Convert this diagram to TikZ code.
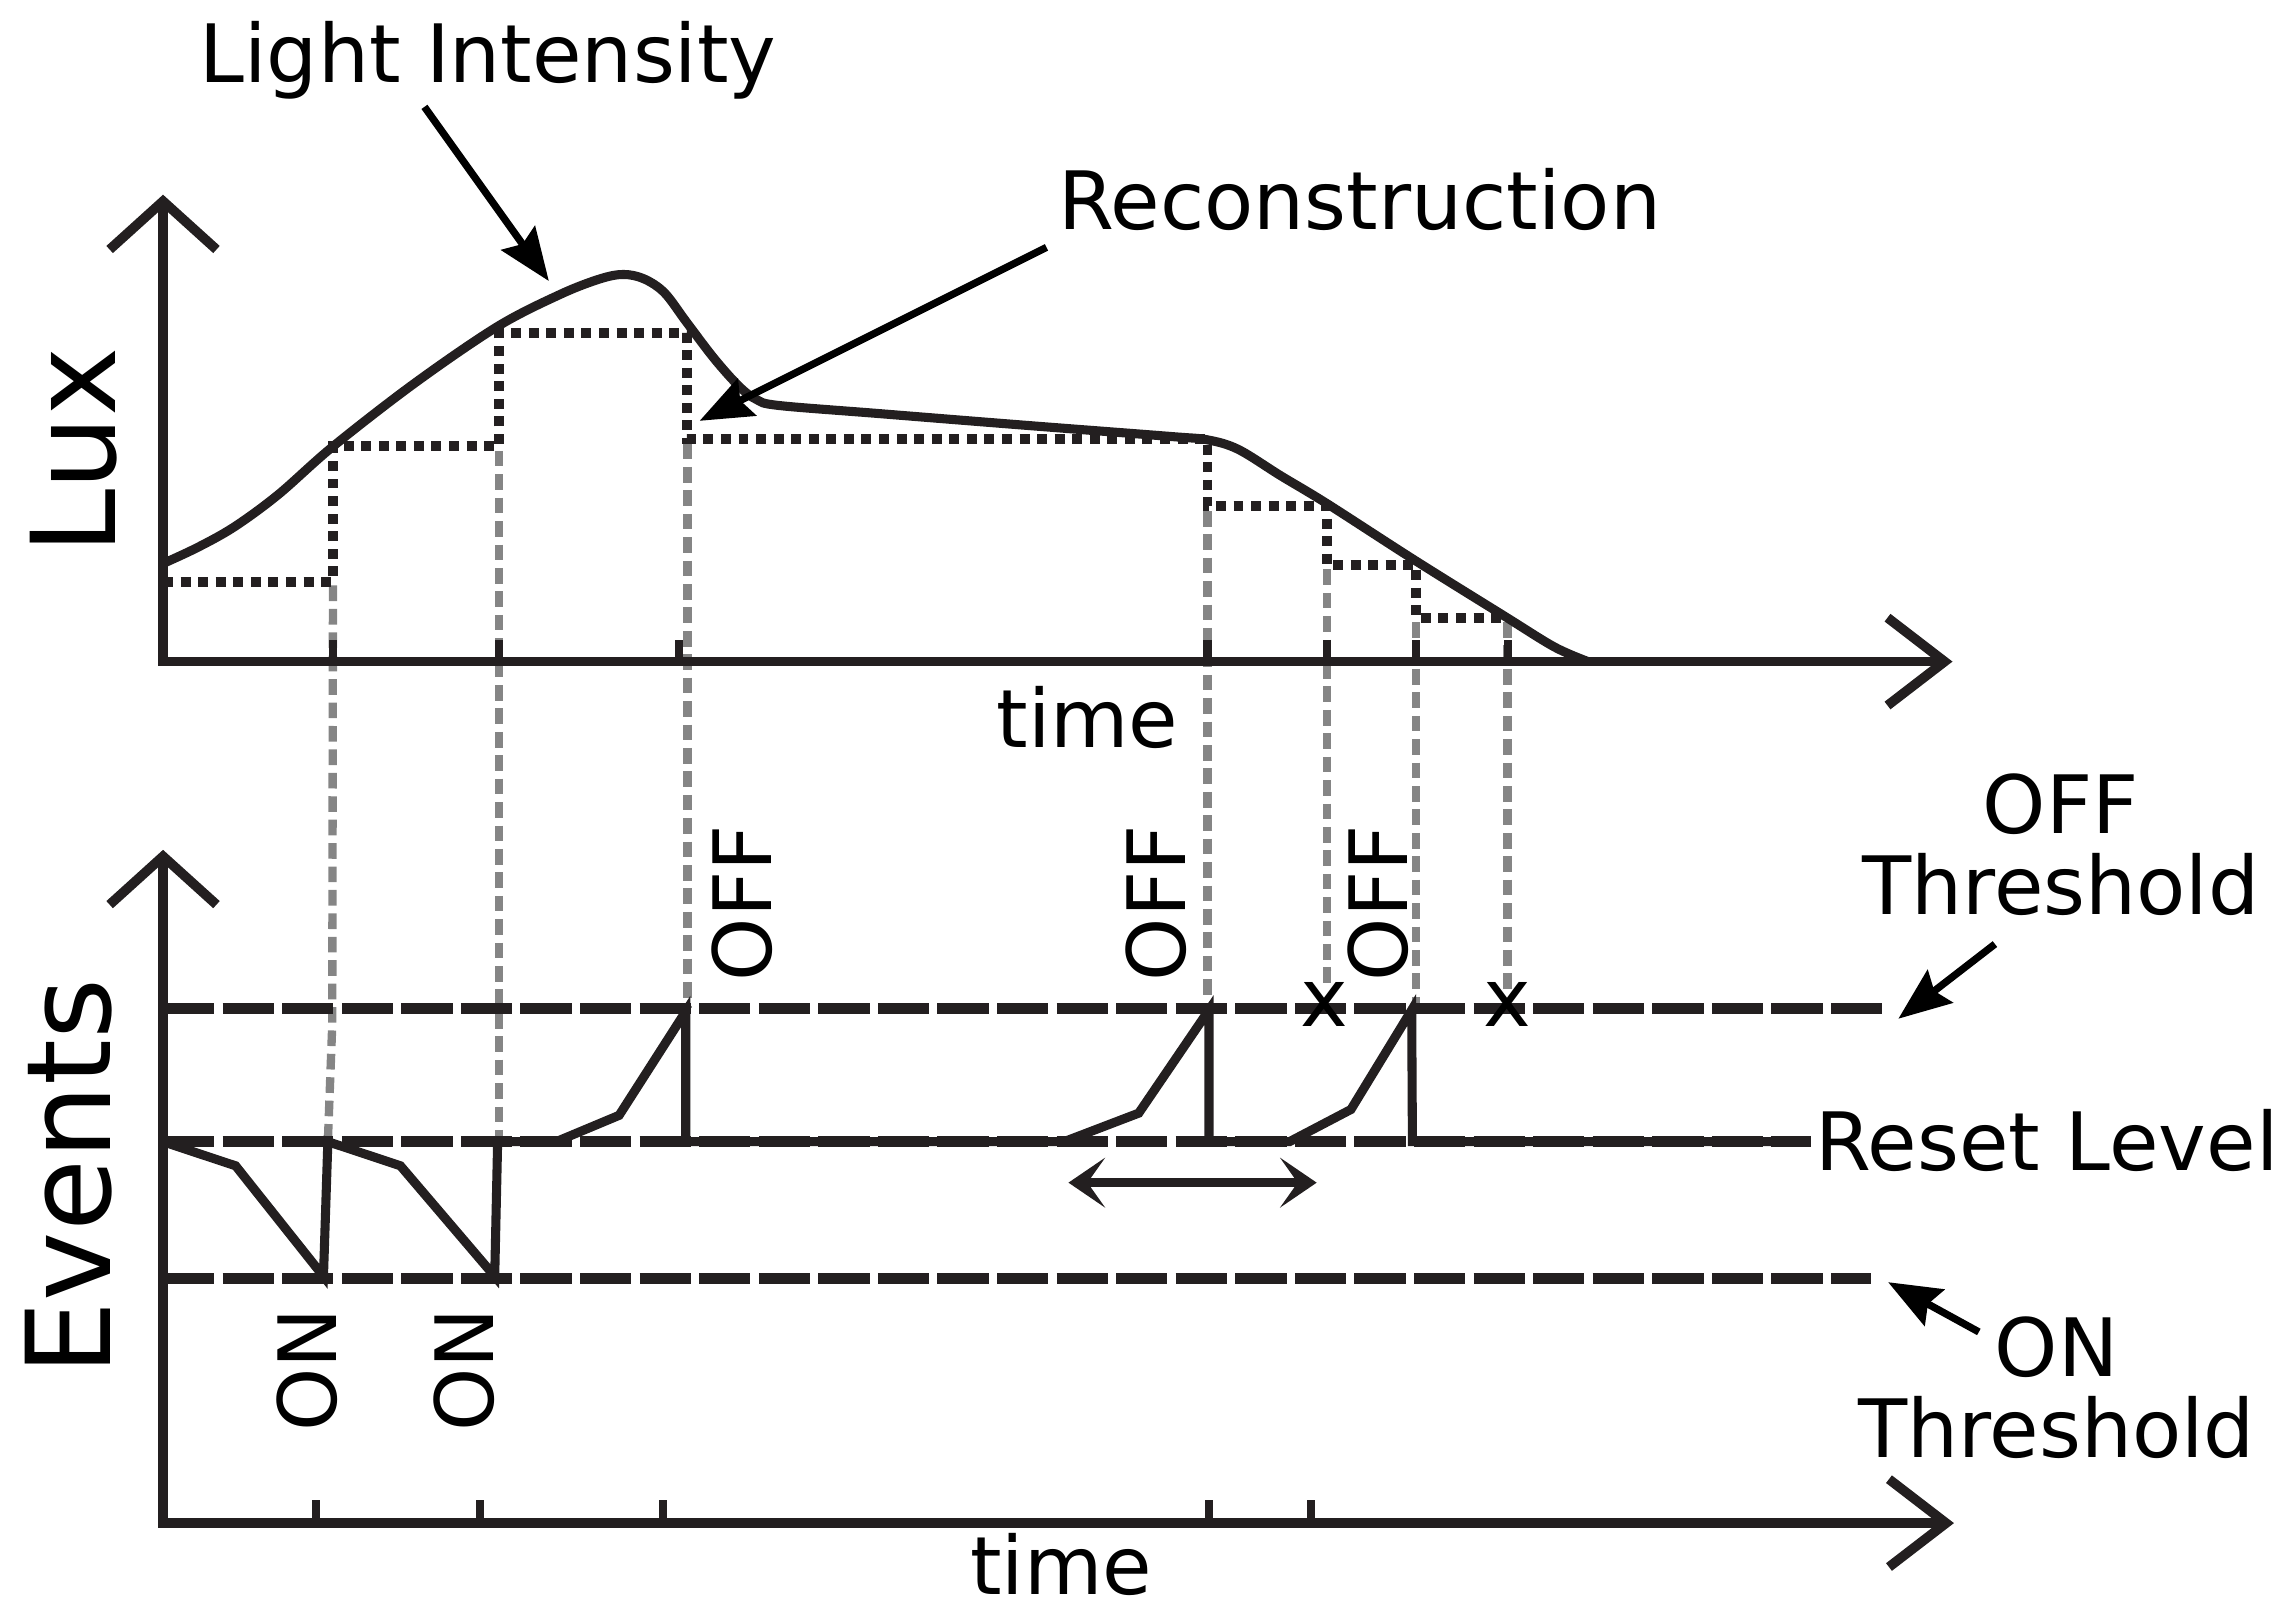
\documentclass[tikz,border=0pt]{standalone}
\usepackage{fontspec}
\setmainfont{DejaVu Sans}
\usepackage{xcolor}
\definecolor{ink}{HTML}{231F20}
\definecolor{guide}{HTML}{858585}
\usetikzlibrary{arrows.meta}
\tikzstyle{axisline} = [draw=ink, line width=0.66mm, line join=miter]
\tikzstyle{tickmark} = [draw=ink, line width=0.55mm]
\tikzstyle{trace} = [draw=ink, line width=0.62mm]
\tikzstyle{recon} = [draw=ink, line width=0.68mm, dash pattern=on 0.68mm off 0.52mm]
\tikzstyle{guideline} = [draw=guide, line width=0.57mm, dash pattern=on 1.07mm off 0.53mm]
\tikzstyle{thr} = [draw=ink, line width=0.73mm, dash pattern=on 3.5mm off 0.57mm]
\tikzstyle{pointer} = [draw=black, line width=0.5mm, -{Stealth[length=3.6mm, width=2.8mm, inset=0.5mm]}]
\tikzstyle{lbl} = [inner sep=0pt, font=\fontsize{15.65pt}{15.65pt}\selectfont]
\tikzstyle{biglbl} = [inner sep=0pt, font=\fontsize{22.76pt}{22.76pt}\selectfont]

\begin{document}
\begin{tikzpicture}[x=0.1mm, y=-0.1mm]
	\useasboundingbox (0,0) rectangle (1568,1106);

	%guides between the two plots
	\draw[guideline] (227.5,400) -- (227,700) -- (224,780);
	\draw[guideline] (341,308) -- (341,780);
	\draw[guideline] (469.6,303) -- (469.6,689);
	\draw[guideline] (825,349) -- (825,689);
	\draw[guideline] (906.5,389) -- (906.5,676);
	\draw[guideline] (967.3,425) -- (967.3,689);
	\draw[guideline] (1030,425) -- (1030,676);

	%top plot
	\coordinate (luxtop) at (111.4,133);
	\coordinate (luxright) at (1334,452);
	\draw[axisline, {Straight Barb[length=3.3mm,width=7.3mm]}-{Straight Barb[length=3.9mm,width=6mm]}] (luxtop) |- (luxright);
	\foreach \t in {227.5,341,464,825,906.5,967.3,1030}
		\draw[tickmark] (\t,452) -- (\t,437);
	\draw[recon] (111.4,397.6) -| (227.5,305) -| (341,227.5) -| (469.6,300.2) -| (825,346) -| (906.5,386) -| (967.3,422) -- (1030,422);
	\draw[trace] plot[smooth, tension=0.55] coordinates {(111.4,385) (135,374) (160,360) (190,338) (227.5,305) (283,262) (340,223) (383,201) (410,190.5) (426,187.5) (440,190.5) (454,200) (469,220) (488,245) (505,264) (517,273) (532,277) (600,282.5) (700,290.5) (800,298.2) (825,300.5) (846,307) (875,325) (906.5,344) (967,383) (1028,421) (1062,442) (1085,452)};

	%bottom plot
	\coordinate (evtop) at (111.4,580.6);
	\coordinate (evright) at (1335,1040.6);
	\draw[axisline, {Straight Barb[length=3.3mm,width=7.3mm]}-{Straight Barb[length=3.9mm,width=6mm]}] (evtop) |- (evright);
	\foreach \t in {215.7,327.7,453,826,895.7}
		\draw[tickmark] (\t,1040.6) -- (\t,1025);
	\draw[thr] (111.4,689) -- (1287,689);
	\draw[thr] (111.4,780) -- (1237,780);
	\draw[thr] (111.4,873.6) -- (1278,873.6);
	\draw[trace] (111.4,780) -- (161,796.5) -- (221,872) -- (224,780) -- (273.6,796.5) -- (338,872) -- (340,780) -- (380,780) -- (423,762) -- (468.5,691) -- (468.5,780) -- (727,780) -- (778,760.5) -- (826,690) -- (826,780) -- (881,780) -- (923,758) -- (964.5,690) -- (965,780) -- (1237,780);

	%labels
	\node[biglbl, rotate=90] (luxlbl) at (50,308) {Lux};
	\node[biglbl, rotate=90] (evlbl) at (47,804) {Events};
	\node[lbl, anchor=base] (lightlbl) at (333.5,56.4) {Light Intensity};
	\node[lbl, anchor=base] (reconlbl) at (929,157) {Reconstruction};
	\node[lbl, anchor=base] (time1) at (743,511) {time};
	\node[lbl, anchor=base] (time2) at (725,1089.5) {time};
	\node[lbl, anchor=base] (resetlbl) at (1398.5,800) {Reset Level};
	\node[lbl, anchor=south, align=center] (offthr) at (1408,626) {OFF\\Threshold};
	\node[lbl, anchor=south, align=center] (onthr) at (1405,997) {ON\\Threshold};
	\node[lbl, rotate=90] (off1) at (507,617) {OFF};
	\node[lbl, rotate=90] (off2) at (790,617) {OFF};
	\node[lbl, rotate=90] (off3) at (941.5,617) {OFF};
	\node[lbl, rotate=90] (on1) at (210,936) {ON};
	\node[lbl, rotate=90] (on2) at (317,936) {ON};
	\node[lbl] (skip1) at (904.7,686) {x};
	\node[lbl] (skip2) at (1030,686) {x};

	%pointers
	\coordinate (lightfrom) at (290,73);
	\coordinate (lightto) at (375,192);
	\coordinate (reconfrom) at (715,169);
	\coordinate (reconto) at (478,287.5);
	\coordinate (offfrom) at (1363,645);
	\coordinate (offto) at (1297,696);
	\coordinate (onfrom) at (1352,910);
	\coordinate (onto) at (1290,876);
	\coordinate (gapleft) at (730,808);
	\coordinate (gapright) at (899.6,808);
	\draw[pointer] (lightfrom) -- (lightto);
	\draw[pointer] (reconfrom) -- (reconto);
	\draw[pointer] (offfrom) -- (offto);
	\draw[pointer] (onfrom) -- (onto);
	\draw[draw=ink, line width=0.57mm, {Stealth[length=2.5mm,width=3.4mm,inset=1.2mm]}-{Stealth[length=2.5mm,width=3.4mm,inset=1.2mm]}] (gapleft) -- (gapright);
\end{tikzpicture}
\end{document}
